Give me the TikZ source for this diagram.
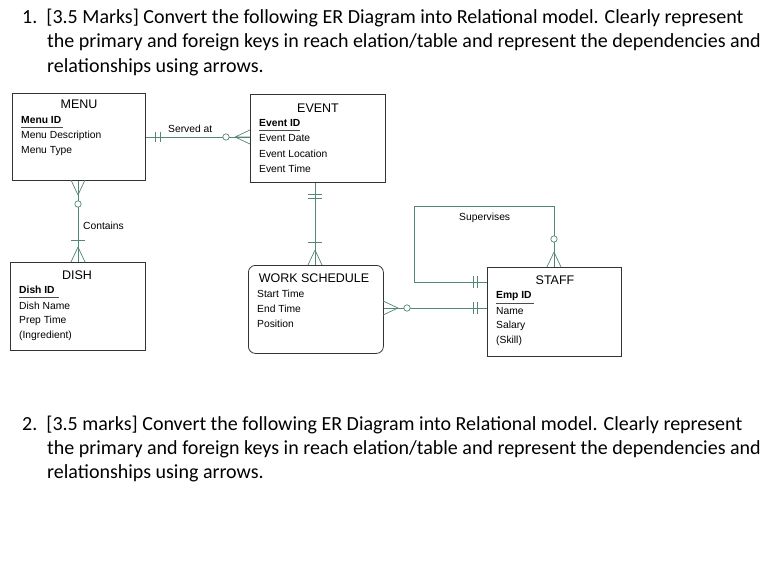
\documentclass[tikz,border=0pt]{standalone}
\usepackage{fontspec}
\setmainfont{Carlito}
\newfontfamily\arial{Liberation Sans}
\definecolor{lc}{RGB}{85,135,120}
\begin{document}
\begin{tikzpicture}[x=1pt,y=-1pt,
  ent/.style={draw=black!80,line width=0.8pt,inner sep=0,anchor=north west},
  lnk/.style={draw=lc,line width=0.7pt},
  attr/.style={font=\arial\fontsize{10.3}{12}\selectfont,anchor=west,inner sep=0},
  battr/.style={attr,font=\arial\bfseries\fontsize{10.3}{12}\selectfont},
  ttl/.style={font=\arial\fontsize{12.5}{14}\selectfont,inner sep=0},
  q/.style={font=\fontsize{20}{24}\selectfont,anchor=west,inner sep=0}]
\useasboundingbox (0,0) rectangle (768,570);
\fill[white] (0,0) rectangle (768,570);
% question text
\node[q] (q1a) at (22,18) {1.\ \ [3.5 Marks] Convert the following ER Diagram into Relational model. Clearly represent};
\node[q] (q1b) at (47,42) {the primary and foreign keys in reach elation/table and represent the dependencies and};
\node[q] (q1c) at (47,67) {relationships using arrows.};
\node[q] (q2a) at (22,425) {2.\ \ [3.5 marks] Convert the following ER Diagram into Relational model. Clearly represent};
\node[q] (q2b) at (47,449) {the primary and foreign keys in reach elation/table and represent the dependencies and};
\node[q] (q2c) at (47,473) {relationships using arrows.};
% entities
\node[ent,minimum width=133,minimum height=87] (menu) at (12,93) {};
\node[ent,minimum width=135,minimum height=88] (event) at (250,94) {};
\node[ent,minimum width=135,minimum height=88] (dish) at (10,262) {};
\node[ent,rounded corners=7pt,minimum width=135,minimum height=88] (ws) at (248,265) {};
\node[ent,minimum width=134,minimum height=89] (staff) at (487,267) {};
% titles and attributes
\node[ttl] (tm) at (79,104) {MENU};
\node[battr] (m1) at (21,120) {Menu ID};
\node[attr] (m2) at (21,136) {Menu Description};
\node[attr] (m3) at (21,151) {Menu Type};
\node[ttl] (te) at (318,108) {EVENT};
\node[battr] (e1) at (259,123) {Event ID};
\node[attr] (e2) at (259,138) {Event Date};
\node[attr] (e3) at (259,154) {Event Location};
\node[attr] (e4) at (259,169) {Event Time};
\node[ttl] (td) at (77,275) {DISH};
\node[battr] (d1) at (19,290) {Dish ID};
\node[attr] (d2) at (19,306) {Dish Name};
\node[attr] (d3) at (19,321) {Prep Time};
\node[attr] (d4) at (19,336) {(Ingredient)};
\node[ttl] (tw) at (314,278) {WORK SCHEDULE};
\node[attr] (w1) at (257,294) {Start Time};
\node[attr] (w2) at (257,309) {End Time};
\node[attr] (w3) at (257,324) {Position};
\node[ttl] (ts) at (555,280) {STAFF};
\node[battr] (s1) at (496,296) {Emp ID};
\node[attr] (s2) at (496,311) {Name};
\node[attr] (s3) at (496,326) {Salary};
\node[attr] (s4) at (496,341) {(Skill)};
\foreach \a/\b/\y in {21/63/127,259/300/130,19/59/297,496/534/303}
  \draw[black!70,line width=0.5pt] (\a,\y) -- (\b,\y);
% relationship labels
\node[attr] (l1) at (168,129) {Served at};
\node[attr] (l2) at (83,226) {Contains};
\node[attr] (l3) at (459,218) {Supervises};
% connectors
\coordinate (me) at (menu.east |- 0,137);
\coordinate (em) at (event.west |- 0,137);
\draw[lnk] (me) -- (em);
\draw[lnk] (155,132) -- (155,142) (160,132) -- (160,142);
\draw[lnk,fill=white] (226,137) circle (3.2);
\draw[lnk] (235,137) -- (250,130) (235,137) -- (250,137) (235,137) -- (250,144);
% menu-dish
\draw[lnk] (menu.south -| 78,0) -- (dish.north -| 78,0);
\draw[lnk] (78,195) -- (71,180) (78,195) -- (85,180);
\draw[lnk,fill=white] (78,204) circle (3.2);
\draw[lnk] (71,240) -- (85,240);
\draw[lnk] (78,247) -- (71,262) (78,247) -- (85,262);
% event-ws
\draw[lnk] (event.south -| 315,0) -- (ws.north -| 315,0);
\draw[lnk] (308,194) -- (322,194) (308,198) -- (322,198);
\draw[lnk] (308,242) -- (322,242);
\draw[lnk] (315,250) -- (308,265) (315,250) -- (322,265);
% ws-staff
\draw[lnk] (ws.east |- 0,308) -- (staff.west |- 0,308);
\draw[lnk] (398,308) -- (383,301) (398,308) -- (383,315);
\draw[lnk,fill=white] (407,308) circle (3.2);
\draw[lnk] (473,302) -- (473,314) (477,302) -- (477,314);
% supervises
\coordinate (c1) at (414,282);
\coordinate (c2) at (414,206);
\coordinate (c3) at (554,206);
\draw[lnk] (staff.west |- 0,282) -- (c1) -- (c2) -- (c3) -- (staff.north -| 554,0);
\draw[lnk] (473,276) -- (473,288) (477,276) -- (477,288);
\draw[lnk,fill=white] (554,239) circle (3.2);
\draw[lnk] (554,252) -- (547,267) (554,252) -- (561,267);
\end{tikzpicture}
\end{document}
